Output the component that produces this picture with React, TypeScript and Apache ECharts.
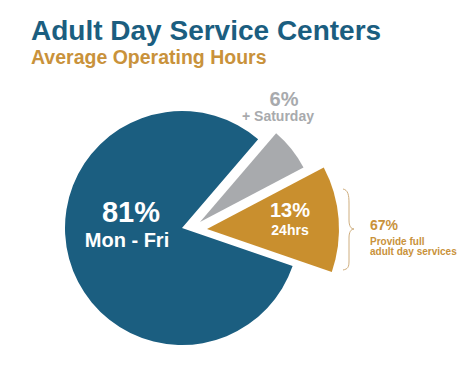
import React, { useEffect, useRef } from "react";
import * as echarts from "echarts";

const categories = ["Mon - Fri", "+ Saturday", "24hrs"];
const values = [81, 6, 13];
const colors = ["#1b5e80", "#a8aaad", "#c98f2e"];
const titleText = "Adult Day Service Centers";
const subtitleText = "Average Operating Hours";
const noteValue = "67%";
const noteLines = ["Provide full", "adult day services"];

const FONT = "'Liberation Sans', Arial, Helvetica, sans-serif";

echarts.graphic.registerShape(
  "brace",
  echarts.graphic.extendPath(
    "M343,189 C348,190 349,195 349,203 L349,220 C349,226 351,229 354,229 C351,229 349,232 349,238 L349,261 C349,267 348,269 343,270",
    {}
  )
);

export default function App() {
  const ref = useRef<HTMLDivElement>(null);
  useEffect(() => {
    document.body.style.margin = "0";
    if (!ref.current) return;
    const chart = echarts.init(ref.current, undefined, { renderer: "svg" });

    const makeSeries = (visibleIdx: number, center: number[], radius: number) => ({
      type: "pie",
      center,
      radius,
      startAngle: 341,
      clockwise: true,
      silent: true,
      z: 1,
      avoidLabelOverlap: false,
      label: { show: false },
      labelLine: { show: false },
      emphasis: { disabled: true },
      data: categories.map((name, i) => ({
        name,
        value: values[i],
        itemStyle: { color: i === visibleIdx ? colors[i] : "rgba(0,0,0,0)" },
      })),
    });

    const txt = (text: string, x: number, y: number, size: number, fill: string, align = "center") => ({
      type: "text",
      x,
      y,
      z: 100,
      silent: true,
      style: {
        text,
        fill,
        font: `bold ${size}px ${FONT}`,
        textAlign: align,
        textVerticalAlign: "middle",
      },
    });

    chart.setOption({
      animation: false,
      backgroundColor: "#ffffff",
      series: [
        makeSeries(0, [182, 228], 117),
        makeSeries(1, [200, 222], 117),
        makeSeries(2, [207, 229], 132),
      ],
      graphic: {
        elements: [
          txt(titleText, 31, 30, 28, "#1b5e80", "left"),
          txt(subtitleText, 31, 57, 19.5, "#c9923b", "left"),
          txt(`${values[0]}%`, 131, 212, 29, "#ffffff"),
          txt(categories[0], 127, 240, 20, "#ffffff"),
          txt(`${values[2]}%`, 290, 210, 20, "#ffffff"),
          txt(categories[2], 290, 230, 14, "#ffffff"),
          txt(`${values[1]}%`, 284, 99, 20, "#a8aaad"),
          txt(categories[1], 278, 116, 14, "#a8aaad"),
          txt(noteValue, 370, 225, 14, "#c9923b", "left"),
          txt(noteLines[0], 370, 241, 10, "#c9923b", "left"),
          txt(noteLines[1], 370, 251, 10, "#c9923b", "left"),
          {
            type: "brace",
            z: 100,
            silent: true,
            style: { stroke: "#cfae7e", fill: "none", lineWidth: 1 },
          },
        ],
      },
    });
    return () => chart.dispose();
  }, []);
  return <div ref={ref} style={{ width: 474, height: 374 }} />;
}
